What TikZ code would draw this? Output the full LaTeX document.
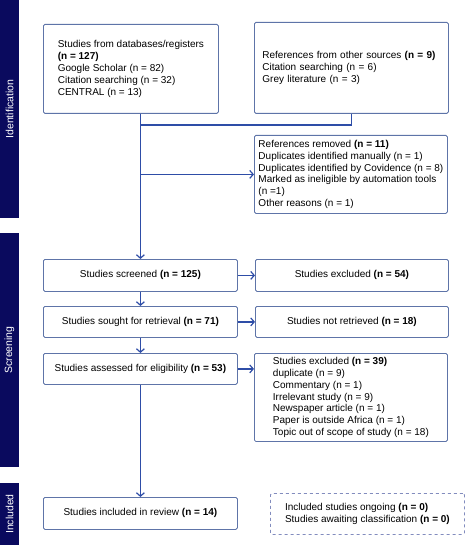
\documentclass[tikz,border=0pt]{standalone}
\usepackage{fontspec}
\setmainfont{Liberation Sans}
\usetikzlibrary{arrows.meta,calc,positioning}
\definecolor{PrismaNavy}{RGB}{10,10,94}
\definecolor{PrismaEdge}{RGB}{94,116,168}
\definecolor{PrismaArrow}{RGB}{46,77,167}
\definecolor{PrismaDash}{RGB}{130,140,190}
\tikzset{
  flowbox/.style={draw=PrismaEdge,line width=0.8pt,rounded corners=1.5pt,fill=white,
    align=left,inner sep=4pt,anchor=north west,font=\fontsize{10}{11.8}\selectfont},
  phasebar/.style={fill=PrismaNavy,text=white,rotate=90,minimum height=19pt,
    inner sep=0pt,font=\fontsize{10.5}{11}\selectfont},
  flowline/.style={draw=PrismaArrow,line width=1.2pt},
  flowarrow/.style={flowline,-{Straight Barb[length=3.5pt,width=8pt]}}
}

\begin{document}
\begin{tikzpicture}[x=1pt,y=-1pt]
\useasboundingbox (0,0) rectangle (474,545);
% phase bars
\node[phasebar,minimum width=218pt] (idbar) at (9.5,109) {Identification};
\node[phasebar,minimum width=234pt] (scbar) at (9.5,350) {Screening};
\node[phasebar,minimum width=62pt] (inbar) at (9.5,514) {Included};
% identification
\node[flowbox,minimum width=175pt,minimum height=89pt] (db) at (43,24)
  {Studies from databases/registers\\\textbf{(n = 127)}\\Google Scholar (n = 82)\\Citation searching (n = 32)\\CENTRAL (n = 13)};
\node[flowbox,text width=178pt,inner xsep=8pt,minimum height=91pt] (other) at (254,22)
  {References from other sources \textbf{(n = 9)}\\Citation searching (n = 6)\\Grey literature (n = 3)};
\node[flowbox,minimum width=193pt,minimum height=78pt] (removed) at (254,135)
  {References removed \textbf{(n = 11)}\\Duplicates identified manually (n = 1)\\Duplicates identified by Covidence (n = 8)\\Marked as ineligible by automation tools\\(n =1)\\Other reasons (n = 1)};
% screening
\node[flowbox,align=center,minimum width=194pt,minimum height=32pt] (screened) at (43,259)
  {Studies screened \textbf{(n = 125)}};
\node[flowbox,align=center,minimum width=193pt,minimum height=32pt] (excluded) at (255,259)
  {Studies excluded \textbf{(n = 54)}};
\node[flowbox,align=center,minimum width=194pt,minimum height=31pt] (sought) at (43,306)
  {Studies sought for retrieval \textbf{(n = 71)}};
\node[flowbox,align=center,minimum width=193pt,minimum height=31pt] (notretr) at (255,306)
  {Studies not retrieved \textbf{(n = 18)}};
\node[flowbox,align=center,minimum width=194pt,minimum height=31pt] (assessed) at (43,353)
  {Studies assessed for eligibility \textbf{(n = 53)}};
\node[flowbox,minimum width=193pt,minimum height=88pt] (reasons) at (254,353)
  {Studies excluded \textbf{(n = 39)}\\duplicate (n = 9)\\Commentary (n = 1)\\Irrelevant study (n = 9)\\Newspaper article (n = 1)\\Paper is outside Africa (n = 1)\\Topic out of scope of study (n = 18)};
% included
\node[flowbox,align=center,minimum width=194pt,minimum height=32pt] (included) at (43,497)
  {Studies included in review \textbf{(n = 14)}};
\node[flowbox,draw=PrismaDash,dashed,minimum width=194pt,minimum height=41pt] (ongoing) at (270,493)
  {Included studies ongoing \textbf{(n = 0)}\\Studies awaiting classification \textbf{(n = 0)}};
% connectors
\coordinate (merge) at (screened.north |- 0,125);
\draw[flowline] (other.south) |- (merge);
\draw[flowarrow] (screened.north |- db.south) -- (screened.north);
\draw[flowarrow] (screened.north |- removed.west) -- (removed.west);
\draw[flowarrow] (screened.east) -- (excluded.west);
\draw[flowarrow] (sought.east) -- (notretr.west);
\draw[flowarrow] (assessed.east) -- (assessed.east -| reasons.west);
\draw[flowarrow] (screened.south) -- (sought.north);
\draw[flowarrow] (sought.south) -- (assessed.north);
\draw[flowarrow] (assessed.south) -- (included.north);
\end{tikzpicture}
\end{document}
